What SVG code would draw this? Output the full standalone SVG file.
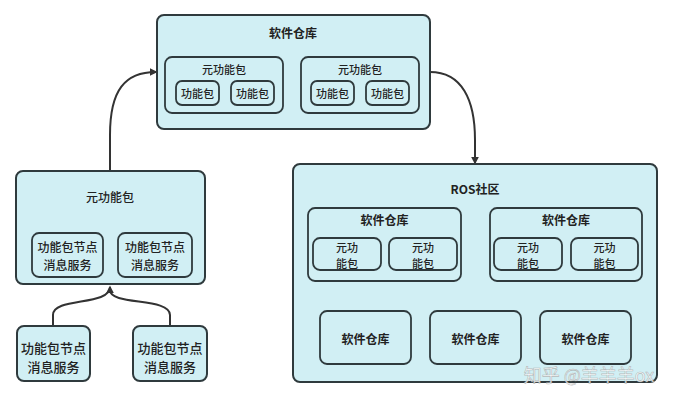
<svg xmlns="http://www.w3.org/2000/svg" width="683" height="401" viewBox="0 0 683 401">
<style>
.box{fill:#d1eff4;stroke:#2f3a3d;stroke-width:2}
.in{fill:#d1eff4;stroke:#2f3a3d;stroke-width:1.8}
text{font-family:"Noto Sans CJK SC","Liberation Sans",sans-serif;fill:#222;text-anchor:middle;dominant-baseline:central}
.t{font-size:12px;font-weight:bold}
.n{font-size:11px;font-weight:500}
.m{font-size:12px;font-weight:500}
.b{font-size:13px;font-weight:500}
.c{fill:none;stroke:#333;stroke-width:2}
</style>
<defs>
<marker id="a" viewBox="0 0 10 10" refX="8" refY="5" markerWidth="8" markerHeight="8" orient="auto" markerUnits="userSpaceOnUse"><path d="M0,0 L10,5 L0,10 z" fill="#333"/></marker>
</defs>
<rect width="683" height="401" fill="#fff"/>
<g id="connectors">
<path class="c" d="M53,326 L53,315 C53,297 110,306 110,287" marker-end="url(#a)"/>
<path class="c" d="M170,326 L170,315 C170,297 110,306 110,290"/>
<path class="c" d="M110,171 L110,135 C110,90 125,72 156,72" marker-end="url(#a)"/>
<path class="c" d="M430,72 C462,72 475,100 475,140 L475,163" marker-end="url(#a)"/>
</g>
<g id="repo-top">
<rect class="box" x="157" y="15" width="273" height="114" rx="7"/>
<text class="t" x="293" y="32">软件仓库</text>
<g id="meta1">
<rect class="in" x="165" y="57" width="118" height="56" rx="7"/>
<text class="n" x="224" y="69">元功能包</text>
<rect class="in" x="176" y="81" width="43" height="24" rx="6"/><text class="n" x="197.5" y="93">功能包</text>
<rect class="in" x="231" y="81" width="43" height="24" rx="6"/><text class="n" x="252.5" y="93">功能包</text>
</g>
<g id="meta2">
<rect class="in" x="301" y="57" width="118" height="56" rx="7"/>
<text class="n" x="360" y="69">元功能包</text>
<rect class="in" x="311" y="81" width="43" height="24" rx="6"/><text class="n" x="332.5" y="93">功能包</text>
<rect class="in" x="366" y="81" width="43" height="24" rx="6"/><text class="n" x="387.5" y="93">功能包</text>
</g>
</g>
<g id="meta-left">
<rect class="box" x="16" y="171" width="189" height="113" rx="7"/>
<text class="m" x="110" y="196">元功能包</text>
<rect class="in" x="32" y="233" width="71" height="44" rx="7"/>
<text class="m" x="67.5" y="246">功能包节点</text><text class="m" x="67.5" y="264">消息服务</text>
<rect class="in" x="118" y="233" width="74" height="44" rx="7"/>
<text class="m" x="155" y="246">功能包节点</text><text class="m" x="155" y="264">消息服务</text>
</g>
<g id="node-a">
<rect class="box" x="17" y="326" width="73" height="55" rx="7"/>
<text class="b" x="53.5" y="347">功能包节点</text><text class="b" x="53.5" y="366">消息服务</text>
</g>
<g id="node-b">
<rect class="box" x="133" y="326" width="74" height="55" rx="7"/>
<text class="b" x="170" y="347">功能包节点</text><text class="b" x="170" y="366">消息服务</text>
</g>
<g id="ros">
<rect class="box" x="293" y="164" width="364" height="218" rx="7"/>
<text class="t" x="475" y="188">ROS社区</text>
<g id="ros-repo1">
<rect class="in" x="308" y="208" width="153" height="73" rx="7"/>
<text class="t" x="384.5" y="219">软件仓库</text>
<rect class="in" x="313" y="238" width="68" height="32" rx="7"/>
<text class="n" x="347" y="247">元功</text><text class="n" x="347" y="263">能包</text>
<rect class="in" x="389" y="238" width="68" height="32" rx="7"/>
<text class="n" x="423" y="247">元功</text><text class="n" x="423" y="263">能包</text>
</g>
<g id="ros-repo2">
<rect class="in" x="490" y="208" width="152" height="73" rx="7"/>
<text class="t" x="566" y="219">软件仓库</text>
<rect class="in" x="494" y="238" width="68" height="32" rx="7"/>
<text class="n" x="528" y="247">元功</text><text class="n" x="528" y="263">能包</text>
<rect class="in" x="571" y="238" width="67" height="32" rx="7"/>
<text class="n" x="604.5" y="247">元功</text><text class="n" x="604.5" y="263">能包</text>
</g>
<g id="ros-repo3"><rect class="in" x="320" y="311" width="91" height="53" rx="7"/><text class="t" x="365.5" y="338">软件仓库</text></g>
<g id="ros-repo4"><rect class="in" x="430" y="311" width="91" height="53" rx="7"/><text class="t" x="475.5" y="338">软件仓库</text></g>
<g id="ros-repo5"><rect class="in" x="540" y="311" width="91" height="53" rx="7"/><text class="t" x="585.5" y="338">软件仓库</text></g>
</g>
<text x="589" y="374" style="font-size:18px;fill:#fff;fill-opacity:0.85;stroke:#999;stroke-width:0.6;stroke-opacity:0.7">知乎 @羊羊羊ox</text>
</svg>
